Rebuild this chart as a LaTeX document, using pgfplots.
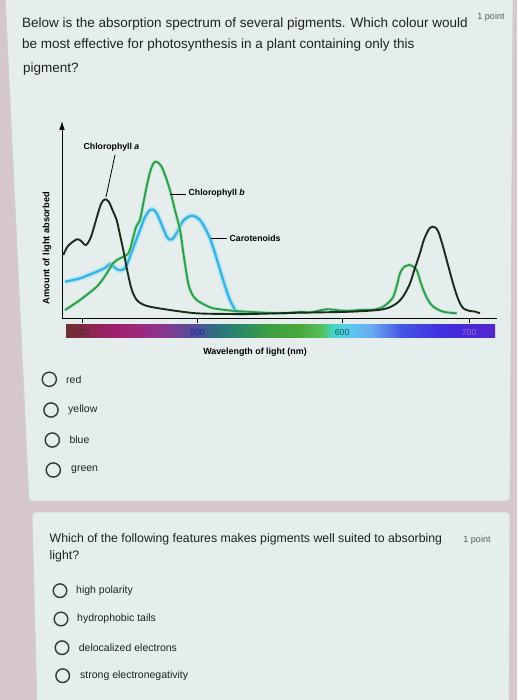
\documentclass[border=0pt]{standalone}
\usepackage{fontspec}
\setmainfont{Liberation Sans}
\usepackage{pgfplots}
\usepackage{pgfplotstable}
\pgfplotsset{compat=1.18}
\usetikzlibrary{arrows.meta}
\definecolor{bgpink}{HTML}{D6C7CC}
\definecolor{card}{HTML}{E5EEEC}
\definecolor{cardedge}{HTML}{CBD3D3}
\definecolor{qtext}{HTML}{1F2124}
\definecolor{ptgray}{HTML}{55595D}
\definecolor{chla}{HTML}{1C2A1C}
\definecolor{chlb}{HTML}{2A9A4C}
\definecolor{chlbglow}{HTML}{9BE3AE}
\definecolor{caro}{HTML}{36B2E2}
\definecolor{caroglow}{HTML}{A6E2F6}
\definecolor{s1}{HTML}{6B2E2E}
\definecolor{s2}{HTML}{86284A}
\definecolor{s3}{HTML}{A01E6E}
\definecolor{s4}{HTML}{9A2A82}
\definecolor{s5}{HTML}{803C92}
\definecolor{s6}{HTML}{50509A}
\definecolor{s7}{HTML}{2E6E80}
\definecolor{s8}{HTML}{2A8A68}
\definecolor{s9}{HTML}{3C9E40}
\definecolor{s10}{HTML}{4AA83A}
\definecolor{s11}{HTML}{56C060}
\definecolor{s12}{HTML}{40D8C8}
\definecolor{s13}{HTML}{5CC8F0}
\definecolor{s14}{HTML}{6AA8F0}
\definecolor{s15}{HTML}{4458E4}
\definecolor{s16}{HTML}{4030E0}
\definecolor{s17}{HTML}{5424CC}
\definecolor{t400}{HTML}{5A2C30}
\definecolor{t500}{HTML}{1E2AA0}
\definecolor{t600}{HTML}{1E5A6A}
\definecolor{t700}{HTML}{A466DA}

\pgfplotstableread{
x y
389.2 63
392.8 72
399.5 78.7
402.8 77
406.6 73
410.4 81
414.3 98
418.1 114
421.2 118.7
424.2 116
426.9 108
430.1 98
432.7 83
435.2 68
437.7 51
440.3 35
442.6 25
445.5 18
449.5 14
455.7 11.3
471 8
491.5 4.7
517 4
532.4 4
570.7 5.3
609 6.3
634.4 8.7
644.9 14.7
650.5 23
655.1 34.7
658.9 50
662.7 64.7
665.4 77
667.9 84.7
670 89.5
672.5 91.3
674.6 90.5
676.8 86.3
679.6 75
683.2 58
686.5 42
689.6 28
692.6 17
695.9 9.7
701.1 7
704.9 6.5
708.7 4.7
}\chla

\pgfplotstableread{
x y
390.5 8
402 18
414.8 31.3
421.2 42
427.5 55
432.7 59.7
437.8 63
440.3 68
442.9 81.3
445.3 92
448 98
450.3 113
453.1 131.3
455.7 146
458 154
459.5 156.3
461.8 155.5
464.6 151.3
467.2 143
471 128
474.8 108
478.7 88
481.7 61
485 34.7
487.9 24
491.5 18
497.9 13
504.2 9.7
517 7.5
529.8 6.3
555.4 4.7
570.7 6
578.4 5.5
591.2 8.7
601.4 7.5
609 7.3
616.7 8
628.2 8.5
634.6 11.3
639 16
642.3 21.3
645.1 33
647.4 44.7
650.5 51
654.5 53
657.4 51.5
660.2 48
662.7 38
665.3 28
668.9 18
672.9 11.3
680.6 6.3
690.9 4.7
}\chlb

\pgfplotstableread{
x y
390.5 36.3
402 39.7
414.8 46.3
421.2 50
425 54
428.1 51
431.4 48
434.2 48
436.5 49.7
438.4 55
440.3 61.3
444.2 75
448 88
451.8 101
455.7 108
458 108.5
460.8 104.7
464.1 95
468.5 81.3
471 78.5
473.5 79.7
477.4 88
481 97
486.4 102
490.2 101.5
494 98
497.9 90
501.7 79.7
505.5 65
509.4 48
513.2 32
517 18
519.7 11
522.2 6.3
527.2 4.7
}\caro

\begin{document}
\begin{tikzpicture}[x=1pt,y=-1pt]
\useasboundingbox (0,0) rectangle (517,700);
\clip (0,0) rectangle (517,700);
\fill[bgpink] (0,0) rectangle (517,700);
% cards
\filldraw[fill=card, draw=cardedge, line width=0.8pt, rounded corners=4pt]
  (5,-6) -- (513,-6) -- (510,501) -- (29,501) -- cycle;
\filldraw[fill=card, draw=cardedge, line width=0.8pt, rounded corners=4pt]
  (32,512) -- (510,512) -- (509,706) -- (37,706) -- cycle;

% question 1
\begin{scope}[every node/.style={inner sep=0pt, text=qtext}]
\node[anchor=west, font=\fontsize{13.5}{16}\selectfont] at (22,24.5) {Below is the absorption spectrum of several pigments. Which colour would};
\node[anchor=west, font=\fontsize{13.5}{16}\selectfont] at (22,45.5) {be most effective for photosynthesis in a plant containing only this};
\node[anchor=west, font=\fontsize{13.5}{16}\selectfont] at (23,69.5) {pigment?};
\node[anchor=center, text=ptgray, font=\fontsize{9}{11}\selectfont] at (491,17.5) {1 point};
\end{scope}

% spectrum bar
\foreach \xa/\xb/\ca/\cb in {66/85.5/s1/s2, 85/115.5/s2/s3, 115/145.5/s3/s4, 145/170.5/s4/s5, 170/195.5/s5/s6, 195/215.5/s6/s7, 215/240.5/s7/s8, 240/268.5/s8/s9, 268/300.5/s9/s10, 300/322.5/s10/s11, 322/333.5/s11/s12, 333/350.5/s12/s13, 350/372.5/s13/s14, 372/400.5/s14/s15, 400/440.5/s15/s16, 440/495/s16/s17}{
  \shade[left color=\ca, right color=\cb] (\xa,324) rectangle (\xb,337);
}

% chart
\begin{axis}[
  at={(62pt,-318pt)}, anchor=south west,
  scale only axis, width=435pt, height=197pt,
  xmin=388.2, xmax=721.8, ymin=0, ymax=197,
  axis x line=bottom, axis y line=left,
  x axis line style={-, line width=0.9pt, black},
  y axis line style={-{Latex[length=9pt,width=5.5pt]}, line width=0.9pt, black},
  ytick=\empty,
  xtick={403.5,492.1,603,700.4},
  xticklabels={\textcolor{t400}{400},\textcolor{t500}{500},\textcolor{t600}{600},\textcolor{t700}{700}},
  tick align=outside, major tick length=5pt,
  xtick style={black, line width=0.8pt},
  xticklabel style={font=\fontsize{8.8}{10}\selectfont, anchor=center, yshift=-9.5pt},
  xlabel={Wavelength of light (nm)},
  ylabel={Amount of light absorbed},
  xlabel style={at={(axis description cs:0.4437,-0.1726)}, anchor=center, font=\bfseries\fontsize{8.9}{10}\selectfont, text=black},
  ylabel style={at={(axis description cs:-0.0345,0.355)}, anchor=center, font=\bfseries\fontsize{9.2}{10}\selectfont, text=black},
  clip=false,
]
\addplot[no marks, smooth, color=caroglow, line width=5.5pt, opacity=0.7] table {\caro};
\addplot[no marks, smooth, color=caro, line width=2.2pt] table {\caro};
\addplot[no marks, smooth, color=chlbglow, line width=3.6pt, opacity=0.6] table {\chlb};
\addplot[no marks, smooth, color=chlb, line width=1.8pt] table {\chlb};
\addplot[no marks, smooth, color=chla, line width=1.9pt] table {\chla};
\end{axis}

% chart annotations
\begin{scope}[every node/.style={inner sep=0pt, text=black, font=\bfseries\fontsize{8.7}{11}\selectfont}]
\node[anchor=center] at (111.5,147) {Chlorophyll \textit{a}};
\draw[line width=0.8pt] (115,155) -- (106,197);
\node[anchor=west] at (188.5,193.5) {Chlorophyll \textit{b}};
\draw[line width=0.8pt] (170,194) -- (186,194);
\node[anchor=west] at (229.5,238.5) {Carotenoids};
\draw[line width=0.8pt] (211,238.5) -- (227,238.5);
\end{scope}

% options card 1
\begin{scope}[every node/.style={inner sep=0pt, text=qtext, anchor=west, font=\fontsize{10.5}{12}\selectfont}]
\draw[line width=1.4pt, qtext!90] (49.3,379.3) circle (7.1);
\node at (66,379.5) {red};
\draw[line width=1.4pt, qtext!90] (51,410) circle (7.1);
\node at (68,410) {yellow};
\draw[line width=1.4pt, qtext!90] (52.3,440) circle (7.1);
\node at (69.3,440) {blue};
\draw[line width=1.4pt, qtext!90] (53.3,470) circle (7.1);
\node at (71,470) {green};
\end{scope}

% question 2
\begin{scope}[every node/.style={inner sep=0pt, text=qtext}]
\node[anchor=west, font=\fontsize{12.3}{15}\selectfont] at (49.5,539.5) {Which of the following features makes pigments well suited to absorbing};
\node[anchor=west, font=\fontsize{12.3}{15}\selectfont] at (49.5,556.5) {light?};
\node[anchor=center, text=ptgray, font=\fontsize{9}{11}\selectfont] at (477,540.5) {1 point};
\end{scope}

\begin{scope}[every node/.style={inner sep=0pt, text=qtext, anchor=west, font=\fontsize{10.5}{12}\selectfont}]
\draw[line width=1.4pt, qtext!90] (60,590.7) circle (6.8);
\node at (76,590.7) {high polarity};
\draw[line width=1.4pt, qtext!90] (61,619) circle (6.8);
\node at (77,619) {hydrophobic tails};
\draw[line width=1.4pt, qtext!90] (62,647.7) circle (6.8);
\node at (78.7,647.7) {delocalized electrons};
\draw[line width=1.4pt, qtext!90] (62.7,675.7) circle (6.8);
\node at (80,675.7) {strong electronegativity};
\end{scope}
\end{tikzpicture}
\end{document}
